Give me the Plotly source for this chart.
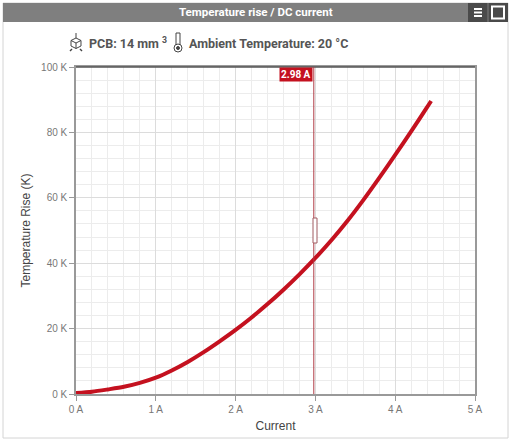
import plotly.graph_objects as go

# current (A) vs temperature rise (K)
current = [0, 0.2, 0.4, 0.6, 0.8, 1.0, 1.2, 1.4, 1.6, 1.8, 2.0, 2.2, 2.4,
           2.6, 2.8, 3.0, 3.2, 3.4, 3.6, 3.8, 4.0, 4.2, 4.4, 4.45]
temp_rise = [0.3, 0.7, 1.4, 2.2, 3.4, 5.0, 7.2, 9.8, 12.8, 16.1, 19.6, 23.4, 27.5,
             31.9, 36.6, 41.6, 47.0, 52.9, 59.3, 66.1, 73.1, 80.3, 87.7, 89.6]
cursor_x = 2.98
x_ticks = [0, 1, 2, 3, 4, 5]
y_ticks = [0, 20, 40, 60, 80, 100]

W, H = 514, 444
L, R, T, B = 76, 475, 67, 394  # plot area in pixels


# pixel -> paper helpers for the card decorations
def px(x):
    return (x - L) / (R - L)


def py(y):
    return (B - y) / (B - T)


fig = go.Figure()
fig.add_trace(go.Scatter(x=current, y=temp_rise, mode="lines",
                         line=dict(color="#c4111f", width=4, shape="spline", smoothing=0.8),
                         hoverinfo="skip", showlegend=False))

shapes = []
# card border
shapes.append(dict(type="rect", xref="paper", yref="paper", x0=px(3), x1=px(508), y0=py(3), y1=py(438),
                   line=dict(color="#d4d4d4", width=1), fillcolor="rgba(0,0,0,0)", layer="below"))
# title bar
shapes.append(dict(type="rect", xref="paper", yref="paper", x0=px(3), x1=px(468), y0=py(3), y1=py(22),
                   line=dict(width=0), fillcolor="#7f7f7f"))
shapes.append(dict(type="rect", xref="paper", yref="paper", x0=px(468), x1=px(508), y0=py(3), y1=py(22),
                   line=dict(width=0), fillcolor="#4a4a4a"))
shapes.append(dict(type="line", xref="paper", yref="paper", x0=px(488), x1=px(488), y0=py(3), y1=py(22),
                   line=dict(color="#7f7f7f", width=1)))
for yy in [9, 12.5, 16]:
    shapes.append(dict(type="line", xref="paper", yref="paper", x0=px(474), x1=px(482), y0=py(yy), y1=py(yy),
                       line=dict(color="white", width=2)))
shapes.append(dict(type="rect", xref="paper", yref="paper", x0=px(492), x1=px(504), y0=py(6.5), y1=py(18.5),
                   line=dict(color="white", width=2), fillcolor="#4a4a4a"))
# cube icon
shapes.append(dict(type="path", xref="paper", yref="paper",
                   path="M %f,%f L %f,%f L %f,%f L %f,%f L %f,%f L %f,%f Z" % (
                       px(76), py(38), px(81), py(40.5), px(81), py(46), px(76), py(48.5), px(71), py(46), px(71), py(40.5)),
                   line=dict(color="#444", width=1)))
shapes.append(dict(type="path", xref="paper", yref="paper",
                   path="M %f,%f L %f,%f L %f,%f M %f,%f L %f,%f" % (
                       px(71), py(40.5), px(76), py(43), px(81), py(40.5), px(76), py(43), px(76), py(48.5)),
                   line=dict(color="#444", width=1)))
shapes.append(dict(type="line", xref="paper", yref="paper", x0=px(76), x1=px(76), y0=py(33), y1=py(38),
                   line=dict(color="#444", width=1)))
shapes.append(dict(type="line", xref="paper", yref="paper", x0=px(70), x1=px(72), y0=py(51), y1=py(49),
                   line=dict(color="#444", width=1.5)))
shapes.append(dict(type="line", xref="paper", yref="paper", x0=px(82), x1=px(80), y0=py(51), y1=py(49),
                   line=dict(color="#444", width=1.5)))
# thermometer icon
shapes.append(dict(type="rect", xref="paper", yref="paper", x0=px(176), x1=px(180), y0=py(33), y1=py(45),
                   line=dict(color="#444", width=1), fillcolor="white"))
shapes.append(dict(type="circle", xref="paper", yref="paper", x0=px(174), x1=px(182), y0=py(44), y1=py(52),
                   line=dict(color="#444", width=1), fillcolor="white"))
shapes.append(dict(type="circle", xref="paper", yref="paper", x0=px(176.5), x1=px(179.5), y0=py(46.5), y1=py(49.5),
                   line=dict(color="#444", width=1), fillcolor="#444"))
# top border of plot
shapes.append(dict(type="line", xref="paper", yref="paper", x0=0, x1=1, y0=1, y1=1,
                   line=dict(color="#555", width=1.5)))
# cursor line and handle
shapes.append(dict(type="line", xref="x", yref="paper", x0=cursor_x, x1=cursor_x, y0=0, y1=1,
                   line=dict(color="#b03a44", width=1)))
shapes.append(dict(type="rect", xref="paper", yref="paper",
                   x0=px(313), x1=px(317), y0=py(218), y1=py(243),
                   line=dict(color="#a05a60", width=1), fillcolor="white"))

annotations = [
    dict(text="<b>Temperature rise / DC current</b>", xref="paper", yref="paper",
         x=px(256), y=py(12.5), xanchor="center", yanchor="middle", showarrow=False,
         font=dict(family="Roboto", size=11.5, color="white")),
    dict(text="<b>PCB: 14 mm <sup>3</sup></b>", xref="paper", yref="paper",
         x=px(87), y=py(43), xanchor="left", yanchor="middle", showarrow=False,
         font=dict(family="Roboto", size=12.5, color="#555")),
    dict(text="<b>Ambient Temperature: 20 °C</b>", xref="paper", yref="paper",
         x=px(187), y=py(43), xanchor="left", yanchor="middle", showarrow=False,
         font=dict(family="Roboto", size=12.5, color="#555")),
    dict(text="<b>%.2f A</b>" % cursor_x, xref="x", yref="paper",
         x=cursor_x, y=1, xanchor="right", yanchor="top", showarrow=False,
         bgcolor="#c4111f", borderpad=1, xshift=-1,
         font=dict(family="Roboto", size=10, color="white")),
]

axis_font = "Liberation Sans"
fig.update_layout(
    width=W, height=H,
    margin=dict(l=L, r=W - R, t=T, b=H - B),
    paper_bgcolor="white", plot_bgcolor="white",
    font=dict(family=axis_font, color="#555"),
    shapes=shapes, annotations=annotations,
    xaxis=dict(range=[0, 5], tickvals=x_ticks, ticktext=["%d A" % v for v in x_ticks],
               showgrid=True, gridcolor="#dcdcdc", gridwidth=1,
               minor=dict(dtick=0.2, showgrid=True, gridcolor="#ececec"),
               showline=True, linecolor="#999", linewidth=1.5, mirror=True,
               ticks="outside", ticklen=5, tickcolor="#999",
               tickfont=dict(family=axis_font, size=10, color="#777"),
               title=dict(text="Current", font=dict(family=axis_font, size=12, color="#444"), standoff=8),
               zeroline=False, fixedrange=True),
    yaxis=dict(range=[0, 100], tickvals=y_ticks, ticktext=["%d K" % v for v in y_ticks],
               showgrid=True, gridcolor="#dcdcdc", gridwidth=1,
               minor=dict(dtick=4, showgrid=True, gridcolor="#ececec"),
               showline=True, linecolor="#999", linewidth=1.5, mirror=True,
               ticks="outside", ticklen=5, tickcolor="#999",
               tickfont=dict(family=axis_font, size=10, color="#777"),
               title=dict(text="Temperature Rise (K)", font=dict(family=axis_font, size=12, color="#444"), standoff=8),
               zeroline=False, fixedrange=True),
)

fig.write_html("out.html", config={"displayModeBar": False},
               post_script="document.body.style.margin='0';")
